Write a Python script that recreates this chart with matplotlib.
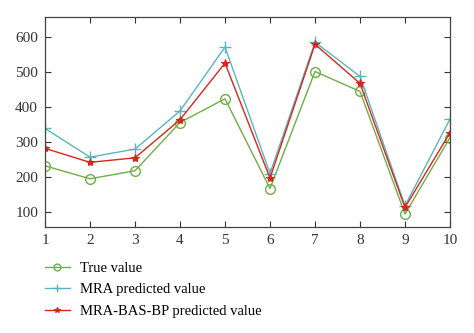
import matplotlib
matplotlib.use("Agg")
import matplotlib.pyplot as plt

samples = [1, 2, 3, 4, 5, 6, 7, 8, 9, 10]
true_value = [232, 195, 218, 356, 424, 167, 502, 445, 94, 313]
mra_pred = [339, 257, 280, 389, 572, 210, 586, 488, 118, 366]
mra_bas_bp_pred = [282, 242, 255, 364, 526, 197, 580, 468, 113, 327]

plt.rcParams['font.family'] = ['Liberation Serif', 'DejaVu Serif']

fig = plt.figure(figsize=(4.74, 3.33), dpi=100)
ax = fig.add_axes([45 / 474, 1 - 227 / 333, 405 / 474, 210 / 333])

ax.plot(samples, true_value, color='#6fae45', linewidth=1.0, marker='o',
        markersize=7, markerfacecolor='none', markeredgewidth=1.0, label='True value')
ax.plot(samples, mra_pred, color='#5ab5bf', linewidth=1.0, marker='+',
        markersize=8, markeredgewidth=1.0, label='MRA predicted value')
ax.plot(samples, mra_bas_bp_pred, color='#d7261c', linewidth=1.0, marker='*',
        markersize=6, markeredgewidth=0.8, label='MRA-BAS-BP predicted value')

ax.set_xlim(1, 10)
ax.set_ylim(57, 658)
ax.set_xticks(samples)
ax.set_yticks([100, 200, 300, 400, 500, 600])
ax.tick_params(direction='in', top=True, right=True, labelsize=11,
               colors='#333333', length=4, width=0.8, pad=5)
for s in ax.spines.values():
    s.set_color('#444444')
    s.set_linewidth(0.9)

leg = fig.legend(loc='upper left', bbox_to_anchor=(45 / 474, 1 - 262 / 333),
                 frameon=False, fontsize=10.5, handlelength=1.7, labelspacing=0.55,
                 handletextpad=0.7, borderaxespad=0, borderpad=0, markerscale=0.7)

fig.savefig('out.png', dpi=100)
